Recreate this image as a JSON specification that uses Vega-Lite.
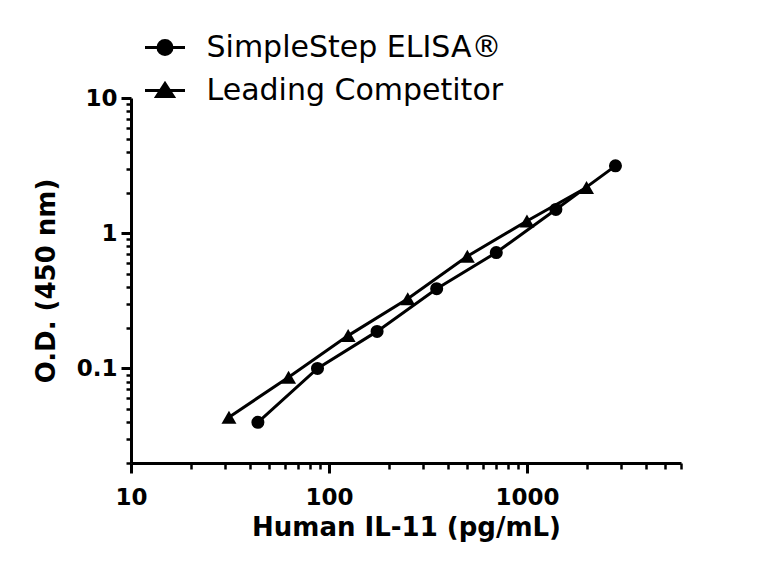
{
  "$schema": "https://vega.github.io/schema/vega-lite/v6.json",
  "autosize": {"type": "none"},
  "padding": {"left": 131, "top": 98, "right": 87, "bottom": 118},
  "width": 550,
  "height": 365,
  "background": "white",
  "config": {
    "view": {"stroke": null},
    "font": "DejaVu Sans",
    "axis": {
      "domainColor": "black",
      "domainWidth": 3,
      "tickColor": "black",
      "tickWidth": 3,
      "grid": false,
      "labelColor": "black",
      "labelFont": "DejaVu Sans",
      "labelFontWeight": "bold",
      "labelFontSize": 23,
      "labelFlush": false,
      "titleColor": "black",
      "titleFont": "DejaVu Sans",
      "titleFontWeight": "bold",
      "titleFontSize": 26
    }
  },
  "data": {
    "values": [
      {"series": "SimpleStep ELISA®", "conc": 43.75, "od": 0.040},
      {"series": "SimpleStep ELISA®", "conc": 87.5, "od": 0.100},
      {"series": "SimpleStep ELISA®", "conc": 175, "od": 0.188},
      {"series": "SimpleStep ELISA®", "conc": 350, "od": 0.389},
      {"series": "SimpleStep ELISA®", "conc": 700, "od": 0.720},
      {"series": "SimpleStep ELISA®", "conc": 1400, "od": 1.50},
      {"series": "SimpleStep ELISA®", "conc": 2800, "od": 3.15},
      {"series": "Leading Competitor", "conc": 31.25, "od": 0.0436},
      {"series": "Leading Competitor", "conc": 62.5, "od": 0.0862},
      {"series": "Leading Competitor", "conc": 125, "od": 0.175},
      {"series": "Leading Competitor", "conc": 250, "od": 0.328},
      {"series": "Leading Competitor", "conc": 500, "od": 0.676},
      {"series": "Leading Competitor", "conc": 1000, "od": 1.23},
      {"series": "Leading Competitor", "conc": 2000, "od": 2.18}
    ]
  },
  "resolve": {"axis": {"x": "independent", "y": "independent"}},
  "layer": [
    {
      "mark": {"type": "point", "opacity": 0},
      "encoding": {
        "x": {
          "field": "conc", "type": "quantitative",
          "scale": {"type": "log", "domain": [10, 6000], "nice": false},
          "axis": {
            "orient": "bottom",
            "values": [20, 30, 40, 50, 60, 70, 80, 90, 200, 300, 400, 500, 600, 700, 800, 900, 2000, 3000, 4000, 5000, 6000],
            "labels": false, "domain": false, "tickSize": 6, "tickWidth": 2.5, "title": null
          }
        },
        "y": {
          "field": "od", "type": "quantitative",
          "scale": {"type": "log", "domain": [0.02, 10], "nice": false},
          "axis": {
            "orient": "left",
            "values": [0.02, 0.03, 0.04, 0.05, 0.06, 0.07, 0.08, 0.09, 0.2, 0.3, 0.4, 0.5, 0.6, 0.7, 0.8, 0.9, 2, 3, 4, 5, 6, 7, 8, 9],
            "labels": false, "domain": false, "tickSize": 5, "tickWidth": 2.5, "title": null
          }
        }
      }
    },
    {
      "mark": {"type": "line", "strokeWidth": 3},
      "encoding": {
        "x": {
          "field": "conc", "type": "quantitative",
          "axis": {
            "orient": "bottom",
            "values": [10, 100, 1000],
            "format": "d",
            "tickSize": 10,
            "labelPadding": 13,
            "titlePadding": 5,
            "title": "Human IL-11 (pg/mL)"
          }
        },
        "y": {
          "field": "od", "type": "quantitative",
          "axis": {
            "orient": "left",
            "values": [0.1, 1, 10],
            "labelExpr": "datum.value < 1 ? '0.1' : format(datum.value, 'd')",
            "tickSize": 10,
            "labelPadding": 4,
            "titlePadding": 17,
            "title": "O.D. (450 nm)"
          }
        },
        "color": {
          "field": "series", "type": "nominal",
          "sort": ["SimpleStep ELISA®", "Leading Competitor"],
          "scale": {"range": ["black", "black"]},
          "legend": {
            "orient": "none",
            "legendX": 12.5,
            "legendY": -72,
            "title": null,
            "padding": 0,
            "rowPadding": 6,
            "symbolSize": 1600,
            "symbolStrokeWidth": 3,
            "labelOffset": 20,
            "labelFont": "DejaVu Sans",
            "labelFontSize": 30,
            "labelColor": "black",
            "labelLimit": 400,
            "encode": {
              "symbols": {
                "update": {
                  "shape": {"signal": "datum.value === 'Leading Competitor' ? 'M-1,0L1,0M-0.42,0.3L0.42,0.3L0,-0.35Z' : 'M-1,0L1,0M0.35,0A0.35,0.35 0 1,1 -0.35,0A0.35,0.35 0 1,1 0.35,0Z'"},
                  "fill": {"value": "black"},
                  "stroke": {"value": "black"},
                  "strokeWidth": {"value": 3},
                  "opacity": {"value": 1}
                }
              }
            }
          }
        }
      }
    },
    {
      "mark": {"type": "point", "filled": true, "opacity": 1, "color": "black"},
      "encoding": {
        "x": {"field": "conc", "type": "quantitative", "axis": null},
        "y": {"field": "od", "type": "quantitative", "axis": null},
        "shape": {
          "field": "series", "type": "nominal",
          "scale": {"domain": ["SimpleStep ELISA®", "Leading Competitor"], "range": ["circle", "triangle-up"]},
          "legend": null
        },
        "size": {
          "field": "series", "type": "nominal",
          "scale": {"domain": ["SimpleStep ELISA®", "Leading Competitor"], "range": [170, 225]},
          "legend": null
        }
      }
    }
  ]
}
